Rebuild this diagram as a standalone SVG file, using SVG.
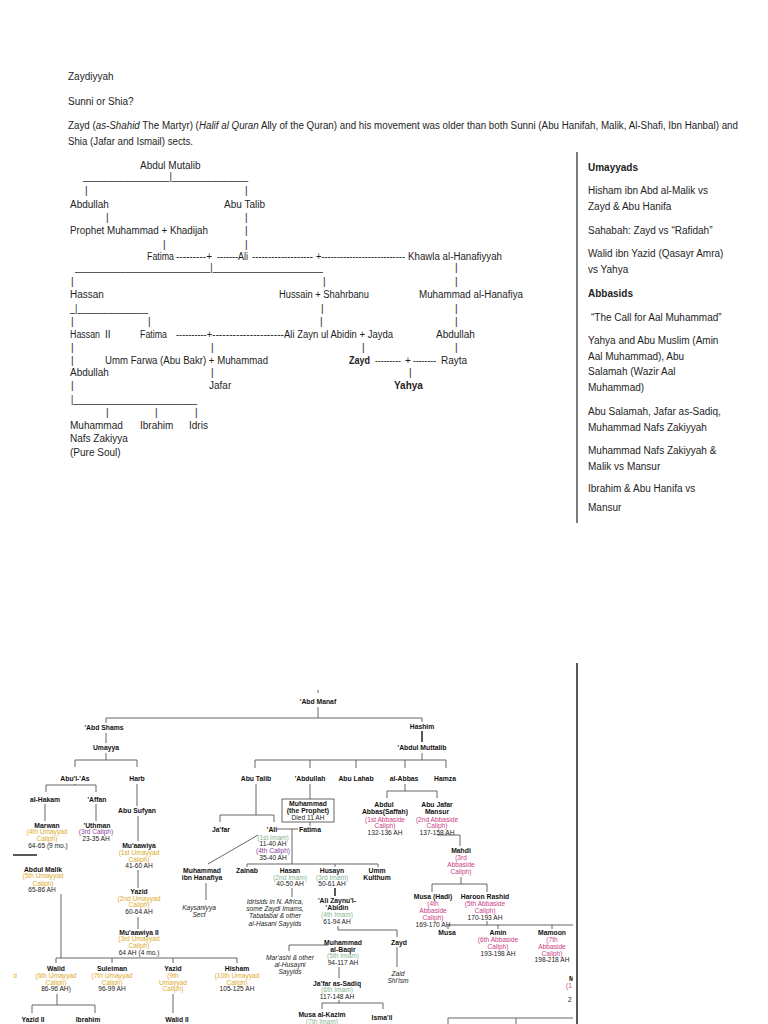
<svg xmlns="http://www.w3.org/2000/svg" width="768" height="1024" viewBox="0 0 768 1024">
<defs>
<style>
.t{font-family:"Liberation Sans",Arial,sans-serif;font-size:10px;fill:#1e1e1e}
.b{font-weight:bold}
.n{font-family:"Liberation Sans",Arial,sans-serif;font-size:6.8px;font-weight:bold;fill:#111;text-anchor:middle}
.d{font-family:"Liberation Sans",Arial,sans-serif;font-size:6.6px;fill:#222;text-anchor:middle}
.g{fill:#DDAA2A}
.p{fill:#8E3F9E}
.m{fill:#CC3C86}
.i{fill:#86B591}
.it{font-style:italic}
.ln{stroke:#555;stroke-width:0.9;fill:none}
.lk{stroke:#111;stroke-width:1.4;fill:none}
</style>
<clipPath id="cr"><rect x="0" y="660" width="573" height="364"/></clipPath>
</defs>
<rect width="768" height="1024" fill="#fff"/>

<g id="header">
<text class="t" x="68" y="80">Zaydiyyah</text>
<text class="t" x="68" y="105">Sunni or Shia?</text>
<text class="t" x="68" y="129" textLength="670" lengthAdjust="spacingAndGlyphs">Zayd (<tspan class="it">as-Shahid</tspan> The Martyr) (<tspan class="it">Halif al Quran</tspan> Ally of the Quran) and his movement was older than both Sunni (Abu Hanifah, Malik, Al-Shafi, Ibn Hanbal) and</text>
<text class="t" x="68" y="145" textLength="125" lengthAdjust="spacingAndGlyphs">Shia (Jafar and Ismail) sects.</text>
</g>

<g id="text-tree">
<text class="t" x="140" y="169">Abdul Mutalib</text>
<text class="t" x="83" y="180" textLength="165" lengthAdjust="spacingAndGlyphs">_________________|_______________</text>
<text class="t" x="85" y="194">|</text><text class="t" x="245" y="194">|</text>
<text class="t" x="70" y="208">Abdullah</text><text class="t" x="224" y="208">Abu Talib</text>
<text class="t" x="106" y="221">|</text><text class="t" x="245" y="221">|</text>
<text class="t" x="70" y="234" textLength="138" lengthAdjust="spacingAndGlyphs">Prophet Muhammad + Khadijah</text><text class="t" x="245" y="234">|</text>
<text class="t" x="163" y="248">|</text><text class="t" x="245" y="248">|</text>
<text class="t" x="147" y="260" textLength="27" lengthAdjust="spacingAndGlyphs">Fatima</text>
<text class="t" x="176" y="260" textLength="36" lengthAdjust="spacingAndGlyphs">---------+</text>
<text class="t" x="217" y="260" textLength="31" lengthAdjust="spacingAndGlyphs">-------Ali</text>
<text class="t" x="252" y="260" textLength="61" lengthAdjust="spacingAndGlyphs">-------------------</text>
<text class="t" x="316" y="260" textLength="89" lengthAdjust="spacingAndGlyphs">+---------------------------</text>
<text class="t" x="408" y="260" textLength="94" lengthAdjust="spacingAndGlyphs">Khawla al-Hanafiyyah</text>
<text class="t" x="75" y="271" textLength="248" lengthAdjust="spacingAndGlyphs">___________________________|______________________</text>
<text class="t" x="455" y="271">|</text>
<text class="t" x="71" y="285">|</text><text class="t" x="323" y="285">|</text><text class="t" x="455" y="285">|</text>
<text class="t" x="70" y="298">Hassan</text>
<text class="t" x="279" y="298" textLength="90" lengthAdjust="spacingAndGlyphs">Hussain + Shahrbanu</text>
<text class="t" x="419" y="298" textLength="104" lengthAdjust="spacingAndGlyphs">Muhammad al-Hanafiya</text>
<text class="t" x="70" y="312" textLength="78" lengthAdjust="spacingAndGlyphs">_|______________</text>
<text class="t" x="321" y="312">|</text><text class="t" x="455" y="312">|</text>
<text class="t" x="71" y="325">|</text><text class="t" x="148" y="325">|</text><text class="t" x="320" y="325">|</text><text class="t" x="455" y="325">|</text>
<text class="t" x="70" y="338" textLength="30" lengthAdjust="spacingAndGlyphs">Hassan</text><text class="t" x="105" y="338">II</text>
<text class="t" x="140" y="338" textLength="27" lengthAdjust="spacingAndGlyphs">Fatima</text>
<text class="t" x="176" y="338" textLength="36" lengthAdjust="spacingAndGlyphs">----------+</text>
<text class="t" x="212" y="338" textLength="72" lengthAdjust="spacingAndGlyphs">---------------------</text>
<text class="t" x="284" y="338" textLength="109" lengthAdjust="spacingAndGlyphs">Ali Zayn ul Abidin + Jayda</text>
<text class="t" x="436" y="338">Abdullah</text>
<text class="t" x="71" y="351">|</text><text class="t" x="211" y="351">|</text><text class="t" x="362" y="351">|</text><text class="t" x="455" y="351">|</text>
<text class="t" x="71" y="364">|</text>
<text class="t" x="105" y="364" textLength="163" lengthAdjust="spacingAndGlyphs">Umm Farwa (Abu Bakr) + Muhammad</text>
<text class="t b" x="349" y="364" textLength="21" lengthAdjust="spacingAndGlyphs">Zayd</text>
<text class="t" x="375" y="364" textLength="26" lengthAdjust="spacingAndGlyphs">---------</text>
<text class="t" x="405" y="364">+</text>
<text class="t" x="413" y="364" textLength="23" lengthAdjust="spacingAndGlyphs">--------</text>
<text class="t" x="441" y="364">Rayta</text>
<text class="t" x="70" y="376">Abdullah</text><text class="t" x="211" y="376">|</text><text class="t" x="409" y="376">|</text>
<text class="t" x="71" y="389">|</text><text class="t" x="209" y="389">Jafar</text><text class="t b" x="394" y="389">Yahya</text>
<text class="t" x="71" y="403" textLength="126" lengthAdjust="spacingAndGlyphs">|_________________________</text>
<text class="t" x="106" y="416">|</text><text class="t" x="155" y="416">|</text><text class="t" x="195" y="416">|</text>
<text class="t" x="70" y="429">Muhammad</text><text class="t" x="140" y="429">Ibrahim</text><text class="t" x="189" y="429">Idris</text>
<text class="t" x="70" y="442">Nafs Zakiyya</text>
<text class="t" x="70" y="456">(Pure Soul)</text>
</g>

<g id="side-notes">
<line x1="577" y1="152" x2="577" y2="523" stroke="#222" stroke-width="1.2"/>
<text class="t b" x="588" y="171">Umayyads</text>
<text class="t" x="588" y="194">Hisham ibn Abd al-Malik vs</text>
<text class="t" x="588" y="210">Zayd &amp; Abu Hanifa</text>
<text class="t" x="588" y="234">Sahabah: Zayd vs “Rafidah”</text>
<text class="t" x="588" y="257">Walid ibn Yazid (Qasayr Amra)</text>
<text class="t" x="588" y="273">vs Yahya</text>
<text class="t b" x="588" y="297">Abbasids</text>
<text class="t" x="591" y="321">“The Call for Aal Muhammad”</text>
<text class="t" x="588" y="344">Yahya and Abu Muslim (Amin</text>
<text class="t" x="588" y="360">Aal Muhammad), Abu</text>
<text class="t" x="588" y="375">Salamah (Wazir Aal</text>
<text class="t" x="588" y="391">Muhammad)</text>
<text class="t" x="588" y="415">Abu Salamah, Jafar as-Sadiq,</text>
<text class="t" x="588" y="431">Muhammad Nafs Zakiyyah</text>
<text class="t" x="588" y="454">Muhammad Nafs Zakiyyah &amp;</text>
<text class="t" x="588" y="470">Malik vs Mansur</text>
<text class="t" x="588" y="492">Ibrahim &amp; Abu Hanifa vs</text>
<text class="t" x="588" y="511">Mansur</text>
</g>

<line x1="577" y1="663" x2="577" y2="1024" stroke="#111" stroke-width="1.4"/>

<g clip-path="url(#cr)">
<g id="connectors">
<path class="ln" d="M318 690V693 M318 707V718 M106 718H422 M106 718V723 M422 718V722"/>
<path class="ln" d="M106 733V743 M106 753V760 M75 760H137 M75 760V767 M137 760V767"/>
<path class="ln" d="M75 784V785 M46 785H96 M46 785V792 M96 785V792 M137 784V806"/>
<path class="ln" d="M45 804V821 M96 804V821 M138 816V841 M138 870V888 M138 917V929"/>
<path class="lk" d="M13 855H37"/>
<path class="ln" d="M61 894V958 M56 958H237 M56 958V963 M112 958V963 M173 958V963 M237 958V963"/>
<path class="ln" d="M57 994V1005 M32 1005H95 M32 1005V1013 M95 1005V1013 M173 994V1013"/>
<path class="lk" d="M422 731V742"/>
<path class="ln" d="M422 753V760 M255 760H446 M255 760V768 M310 760V768 M356 760V768 M405 760V768 M446 760V768"/>
<path class="ln" d="M256 784V815 M220 815H274 M220 815V822 M274 815V822 M310 784V799"/>
<rect class="ln" x="282" y="799" width="52" height="23"/>
<path class="ln" d="M310 822V826 M277 829H298 M292 829V864 M247 864H378 M247 864V867 M335 864V867 M378 864V867"/>
<path class="ln" d="M258 835L208 864 M206 883V900 M292 888V897"/>
<path class="lk" d="M335 888V896"/>
<path class="ln" d="M338 926V930 M338 930H397 M397 930V937 M289 945H328 M289 945V951 M397 947V967 M339 967V978"/>
<path class="ln" d="M339 1000V1003 M322 1003H383 M322 1003V1009 M383 1003V1009"/>
<path class="ln" d="M405 784V791 M387 791H437 M387 791V798 M437 791V798 M437 835H460V846"/>
<path class="ln" d="M461 877V884 M432 884H487 M432 884V892 M487 884V892"/>
<path class="ln" d="M487 921V925 M448 925H573 M448 925V929 M498 925V929 M552 925V929"/>
<path class="ln" d="M448 1018H573 M448 1018V1024 M516 1018V1024"/>
</g>

<g id="abd-manaf"><text class="n" x="318" y="704">'Abd Manaf</text></g>
<g id="hashim"><text class="n" x="422" y="729">Hashim</text></g>
<g id="abd-shams"><text class="n" x="104" y="730">'Abd Shams</text></g>
<g id="umayya"><text class="n" x="106" y="750">Umayya</text></g>
<g id="abul-as"><text class="n" x="75" y="780.5">Abu'l-'As</text></g>
<g id="harb"><text class="n" x="137" y="780.5">Harb</text></g>
<g id="al-hakam"><text class="n" x="45" y="801.5">al-Hakam</text></g>
<g id="affan"><text class="n" x="97" y="801.5">'Affan</text></g>
<g id="abu-sufyan"><text class="n" x="137" y="812.5">Abu Sufyan</text></g>
<g id="marwan"><text class="n" x="47" y="827.5">Marwan</text><text class="d g" x="47" y="834.2">(4th Umayyad</text><text class="d g" x="47" y="840.8">Caliph)</text><text class="d" x="48" y="847.5">64-65 (9 mo.)</text></g>
<g id="uthman"><text class="n" x="97" y="827.5">'Uthman</text><text class="d p" x="96" y="834.2">(3rd Caliph)</text><text class="d" x="96" y="840.8">23-35 AH</text></g>
<g id="muawiya"><text class="n" x="139" y="848">Mu'aawiya</text><text class="d g" x="139" y="855">(1st Umayyad</text><text class="d g" x="139" y="861.6">Caliph)</text><text class="d" x="139" y="868.3">41-60 AH</text></g>
<g id="abdul-malik"><text class="n" x="43" y="871.6">Abdul Malik</text><text class="d g" x="43" y="878.3">(5th Umayyad</text><text class="d g" x="43" y="885.5">Caliph)</text><text class="d" x="42" y="892.3">65-86 AH</text></g>
<g id="yazid-1"><text class="n" x="139" y="894">Yazid</text><text class="d g" x="139" y="900.6">(2nd Umayyad</text><text class="d g" x="139" y="907.3">Caliph)</text><text class="d" x="139" y="914">60-64 AH</text></g>
<g id="muawiya-2"><text class="n" x="139" y="934.6">Mu'aawiya II</text><text class="d g" x="139" y="941.3">(3rd Umayyad</text><text class="d g" x="139" y="948.3">Caliph)</text><text class="d" x="139" y="955">64 AH (4 mo.)</text></g>
<g id="d-frag"><text class="d g" x="15" y="978">d</text></g>
<g id="walid"><text class="n" x="56" y="970.6">Walid</text><text class="d g" x="56" y="978">(6th Umayyad</text><text class="d g" x="56" y="984.6">Caliph)</text><text class="d" x="56" y="991.3">86-96 AH)</text></g>
<g id="suleiman"><text class="n" x="112" y="970.6">Suleiman</text><text class="d g" x="112" y="978">(7th Umayyad</text><text class="d g" x="112" y="984.6">Caliph)</text><text class="d" x="112" y="991.3">96-99 AH</text></g>
<g id="yazid-9"><text class="n" x="173" y="970.6">Yazid</text><text class="d g" x="173" y="978">(9th</text><text class="d g" x="173" y="984.6">Umayyad</text><text class="d g" x="173" y="991.3">Caliph)</text></g>
<g id="hisham"><text class="n" x="237" y="970.6">Hisham</text><text class="d g" x="237" y="978">(10th Umayyad</text><text class="d g" x="237" y="984.6">Caliph)</text><text class="d" x="237" y="991.3">105-125 AH</text></g>
<g id="yazid-2"><text class="n" x="33" y="1022">Yazid II</text></g>
<g id="ibrahim-u"><text class="n" x="88" y="1022">Ibrahim</text></g>
<g id="walid-2"><text class="n" x="177" y="1022">Walid II</text></g>

<g id="abdul-muttalib"><text class="n" x="422" y="750">'Abdul Muttalib</text></g>
<g id="abu-talib"><text class="n" x="256" y="781">Abu Talib</text></g>
<g id="abdullah"><text class="n" x="310" y="781">'Abdullah</text></g>
<g id="abu-lahab"><text class="n" x="356" y="781">Abu Lahab</text></g>
<g id="al-abbas"><text class="n" x="404" y="781">al-Abbas</text></g>
<g id="hamza"><text class="n" x="445" y="781">Hamza</text></g>
<g id="muhammad"><text class="n" x="308" y="805.5">Muhammad</text><text class="n" x="308" y="812.5">(the Prophet)</text><text class="d" x="308" y="819.5">Died 11 AH</text></g>
<g id="jafar"><text class="n" x="221" y="832">Ja'far</text></g>
<g id="ali"><text class="n" x="272" y="832">'Ali</text><text class="d i" x="273" y="839.5">(1st Imam)</text><text class="d" x="273" y="846.2">11-40 AH</text><text class="d p" x="273" y="853">(4th Caliph)</text><text class="d" x="273" y="859.6">35-40 AH</text></g>
<g id="fatima"><text class="n" x="310" y="832">Fatima</text></g>
<g id="ibn-hanafiya"><text class="n" x="202" y="873">Muhammad</text><text class="n" x="202" y="879.6">ibn Hanafiya</text><text class="d it" x="199" y="909.6">Kaysaniyya</text><text class="d it" x="199" y="916.5">Sect</text></g>
<g id="zainab"><text class="n" x="247" y="873">Zainab</text></g>
<g id="hasan"><text class="n" x="290" y="873">Hasan</text><text class="d i" x="290" y="879.6">(2nd Imam)</text><text class="d" x="290" y="886.3">40-50 AH</text></g>
<g id="husayn"><text class="n" x="332" y="873">Husayn</text><text class="d i" x="332" y="879.6">(3rd Imam)</text><text class="d" x="332" y="886.3">50-61 AH</text></g>
<g id="umm-kulthum"><text class="n" x="377" y="873">Umm</text><text class="n" x="377" y="879.6">Kulthum</text></g>
<g id="hasani-note"><text class="d it" x="275" y="904">Idrisids in N. Africa,</text><text class="d it" x="275" y="911.2">some Zaydi Imams,</text><text class="d it" x="275" y="918.3">Tabatabai &amp; other</text><text class="d it" x="275" y="925.5">al-Hasani Sayyids</text></g>
<g id="zaynul-abidin"><text class="n" x="337" y="903.3">'Ali Zaynu'l-</text><text class="n" x="337" y="910">'Abidin</text><text class="d i" x="337" y="917.3">(4th Imam)</text><text class="d" x="337" y="924">61-94 AH</text></g>
<g id="baqir"><text class="n" x="343" y="944.6">Muhammad</text><text class="n" x="343" y="951.6">al-Baqir</text><text class="d i" x="343" y="958.3">(5th Imam)</text><text class="d" x="343" y="965">94-117 AH</text></g>
<g id="zayd"><text class="n" x="399" y="945">Zayd</text><text class="d it" x="398" y="976.3">Zaid</text><text class="d it" x="398" y="982.6">Shi'ism</text></g>
<g id="husayni-note"><text class="d it" x="290" y="960">Mar'ashi &amp; other</text><text class="d it" x="290" y="967.3">al-Husayni</text><text class="d it" x="290" y="974">Sayyids</text></g>
<g id="jafar-sadiq"><text class="n" x="337" y="985.6">Ja'far as-Sadiq</text><text class="d i" x="337" y="992.3">(6th Imam)</text><text class="d" x="337" y="999">117-148 AH</text></g>
<g id="musa-kazim"><text class="n" x="322" y="1016.6">Musa al-Kazim</text><text class="d i" x="322" y="1023.5">(7th Imam)</text></g>
<g id="ismail"><text class="n" x="382" y="1020">Isma'il</text></g>
<g id="saffah"><text class="n" x="384" y="807.3">Abdul</text><text class="n" x="385" y="814">Abbas(Saffah)</text><text class="d m" x="385" y="821.6">(1st Abbaside</text><text class="d m" x="385" y="828.3">Caliph)</text><text class="d" x="385" y="835">132-136 AH</text></g>
<g id="mansur"><text class="n" x="437" y="807.3">Abu Jafar</text><text class="n" x="437" y="814">Mansur</text><text class="d m" x="437" y="821.6">(2nd Abbaside</text><text class="d m" x="437" y="828.3">Caliph)</text><text class="d" x="437" y="835">137-158 AH</text></g>
<g id="mahdi"><text class="n" x="461" y="853.3">Mahdi</text><text class="d m" x="461" y="860">(3rd</text><text class="d m" x="461" y="867">Abbaside</text><text class="d m" x="461" y="874">Caliph)</text></g>
<g id="hadi"><text class="n" x="433" y="899">Musa (Hadi)</text><text class="d m" x="433" y="906.3">(4th</text><text class="d m" x="433" y="913.3">Abbaside</text><text class="d m" x="433" y="920">Caliph)</text><text class="d" x="433" y="926.6">169-170 AH</text></g>
<g id="haroon"><text class="n" x="485" y="899">Haroon Rashid</text><text class="d m" x="485" y="906.3">(5th Abbaside</text><text class="d m" x="485" y="913.3">Caliph)</text><text class="d" x="485" y="920">170-193 AH</text></g>
<g id="musa-a"><text class="n" x="447" y="935">Musa</text></g>
<g id="amin"><text class="n" x="498" y="935">Amin</text><text class="d m" x="498" y="941.6">(6th Abbaside</text><text class="d m" x="498" y="949">Caliph)</text><text class="d" x="498" y="955.6">193-198 AH</text></g>
<g id="mamoon"><text class="n" x="552" y="935">Mamoon</text><text class="d m" x="552" y="941.6">(7th</text><text class="d m" x="552" y="949">Abbaside</text><text class="d m" x="552" y="955.6">Caliph)</text><text class="d" x="552" y="962.3">198-218 AH</text></g>
<g id="cut-node"><text class="n" x="569" y="981.3" style="text-anchor:start">M</text><text class="d m" x="566" y="988.3" style="text-anchor:start">(1</text><text class="d" x="568" y="1001.6" style="text-anchor:start">2</text></g>
</g>
</svg>
